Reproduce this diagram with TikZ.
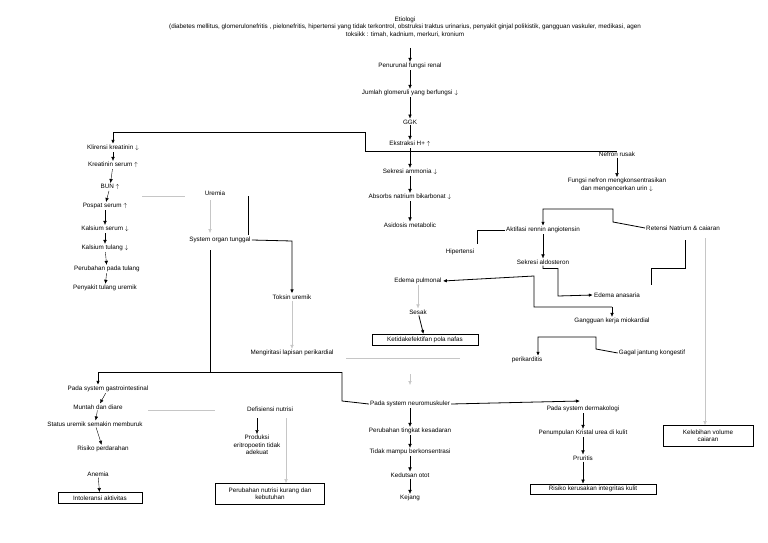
\documentclass[tikz,border=0pt]{standalone}
\usepackage{fontspec}
\setmainfont{Liberation Sans}
\usetikzlibrary{arrows.meta}
\begin{document}
\begin{tikzpicture}[x=1pt,y=-1pt,
 t/.style={font=\fontsize{6.3}{7.4}\selectfont,inner sep=1pt,align=center},
 bx/.style={t,draw,thick,minimum height=11pt},
 ar/.style={-{Latex[length=4pt,width=3.5pt]}},
 ln/.style={thick},
 gl/.style={draw=gray!45}]
\useasboundingbox (0,0) rectangle (768,543);
\node[t] (et) at (405,27) {Etiologi\\(diabetes mellitus, glomerulonefritis , pielonefritis, hipertensi yang tidak terkontrol, obstruksi traktus urinarius, penyakit ginjal polikistik, gangguan vaskuler, medikasi, agen\\toksikk : timah, kadnium, merkuri, kronium};
\coordinate (es) at (410,48);
\node[t] (pr) at (410,66) {Penurunal fungsi renal};
\node[t] (jg) at (410,93) {Jumlah glomeruli yang berfungsi $\downarrow$};
\node[t] (ggk) at (410,122) {GGK};
\node[t] (eh) at (410,144) {Ekstraksi H+ $\uparrow$};
\node[t] (sa) at (410,172) {Sekresi ammonia $\downarrow$};
\node[t] (ab) at (410,197) {Absorbs natrium bikarbonat $\downarrow$};
\node[t] (am) at (410,225) {Asidosis metabolic};
\draw[ar] (es)--(pr);
\draw[ar] (pr)--(jg);
\draw[ar] (jg)--(ggk);
\draw[ar] (ggk)--(eh);
\draw[ar] (eh)--(sa);
\draw[ar] (sa)--(ab);
\draw[ar] (ab)--(am);
% left column
\node[t] (kk) at (113,148) {Klirensi kreatinin $\downarrow$};
\node[t] (ks) at (113,165) {Kreatinin serum $\uparrow$};
\node[t] (bun) at (110,187) {BUN $\uparrow$};
\node[t] (ps) at (105,206) {Pospat serum $\uparrow$};
\node[t] (kse) at (105,229) {Kalsium serum $\downarrow$};
\node[t] (kt) at (105,248) {Kalsium tulang $\downarrow$};
\node[t] (pt) at (107,269) {Perubahan pada tulang};
\node[t] (ptu) at (105,288) {Penyakit tulang uremik};
\draw[ar] (kk)--(ks); \draw[ar] (ks)--(bun); \draw[ar] (bun)--(ps);
\draw[ar] (ps)--(kse); \draw[ar] (kse)--(kt); \draw[ar] (kt)--(pt); \draw[ar] (pt)--(ptu);
\node[t] (nr) at (617,154) {Nefron rusak};
\draw[ln,ar] (365,151) -- (365,132) -- (113,132) -- (kk);
\draw[ln] (365,151) -- (617,151);
\node[t] (fn) at (617,185) {Fungsi nefron mengkonsentrasikan\\dan mengencerkan urin $\downarrow$};
\draw[ar] (nr)--(fn);
\node[t] (rn) at (683,228) {Retensi Natrium \& caiaran};
\node[t] (aa) at (543,230) {Aktifasi rennin angiotensin};
\node[t] (hp) at (460,252) {Hipertensi};
\node[t] (sal) at (543,262) {Sekresi aldosteron};
\node[t] (ea) at (617,295) {Edema anasaria};
\node[t] (ep) at (418,281) {Edema pulmonal};
\node[t] (gk) at (612,321) {Gangguan kerja miokardial};
\node[t] (ss) at (418,312) {Sesak};
\node[bx,minimum width=106pt] (kp) at (425,340) {Ketidakefektifan pola nafas};
\node[t] (pk) at (527,360) {perikarditis};
\node[t] (gj) at (652,353) {Gagal jantung kongestif};
\draw[ln,ar] (rn.west) -- (613,222) -- (613,209) -- (543,209) -- (aa);
\draw[ln] (aa.west) -- (477,230) -- (477,244);
\draw[ar] (aa)--(sal);
\draw[ln,ar] (sal.south) -- ++(0,3) -| (558,296) -- (ea.west);
\draw[ln] (685,240) -- (685,268) -- (651,268) -- (651,285);
\draw[ln,ar] (612,307) -- (534,307) -- (534,276) -- (ep.east);
\draw[ar] (612,307) -- (gk);
\draw[gl,ar] (ep)--(ss);
\draw[ln,ar] (ss)--(kp);
\draw[ln,ar] (gj.west) -- (596,349) -- (596,337) -- (538,337) -- (pk.north-|538,0);
\node[bx,minimum width=90pt,minimum height=21pt] (kv) at (708,436) {Kelebihan volume\\caiaran};
\draw[gl,ar] (705,238) -- (kv.north-|705,0);
% uremia
\node[t] (ur) at (215,193) {Uremia};
\node[t] (sot) at (220,240) {System organ tunggal};
\draw[gl] (142,196) -- (185,196);
\draw[gl,ar] (210,200) -- (210,233);
\draw[ln] (248,196) -- (248,235);
\node[t] (tu) at (292,297) {Toksin uremik};
\node[t] (mlp) at (292,353) {Mengiritasi lapisan perikardial};
\draw[ln,ar] (sot.east) -- (292,241) -- (tu);
\draw[gl,ar] (tu) -- (mlp);
\draw[gl] (346,358) -- (460,358);
% bottom
\node[t] (psg) at (108,389) {Pada system gastrointestinal};
\node[t] (psn) at (410,404) {Pada system neuromuskuler};
\draw[ln] (210,250) -- (210,372);
\draw[ln,ar] (342,372) -- (98,372) -- (psg.north-|98,0);
\draw[ln] (342,372) -- (342,401) -- (psn.west);
\draw[gl,ar] (410,374) -- (410,385);
\node[t] (md) at (98,407) {Muntah dan diare};
\node[t] (su) at (95,424) {Status uremik semakin memburuk};
\node[t] (rp) at (103,449) {Risiko perdarahan};
\node[t] (an) at (98,474) {Anemia};
\node[bx,minimum width=84pt] (ia) at (100,498) {Intoleransi aktivitas};
\draw[ar] (psg)--(md); \draw[ar] (md)--(su); \draw[ar] (su)--(rp); \draw[ar] (an)--(ia);
\node[t] (dn) at (270,409) {Defisiensi nutrisi};
\node[t] (pe) at (257,445) {Produksi\\eritropoetin tidak\\adekuat};
\node[bx,minimum width=109pt,minimum height=21pt] (pn) at (270,494) {Perubahan nutrisi kurang dan\\kebutuhan};
\draw[gl] (148,410) -- (215,410);
\draw[ar] (257,418) -- (pe);
\draw[gl,ar] (286,418) -- (pn.north-|286,0);
\node[t] (pks) at (410,431) {Perubahan tingkat kesadaran};
\node[t] (tm) at (410,452) {Tidak mampu berkonsentrasi};
\node[t] (ko) at (410,475) {Kedutsan otot};
\node[t] (kj) at (410,498) {Kejang};
\draw[ar] (psn)--(pks); \draw[ar] (pks)--(tm); \draw[ar] (tm)--(ko); \draw[ar] (ko)--(kj);
\node[t] (psd) at (583,409) {Pada system dermakologi};
\node[t] (pku) at (583,433) {Penumpulan Kristal urea di kulit};
\node[t] (pru) at (583,458) {Pruritis};
\node[bx,minimum width=126pt,minimum height=10pt] (rk) at (593,489) {Risiko kerusakan integritas kulit};
\draw[ln,ar] (psn.east) -- (580,401);
\draw[ar] (psd)--(pku); \draw[ar] (pku)--(pru); \draw[ar] (pru)--(rk.north-|pru);
\end{tikzpicture}
\end{document}
